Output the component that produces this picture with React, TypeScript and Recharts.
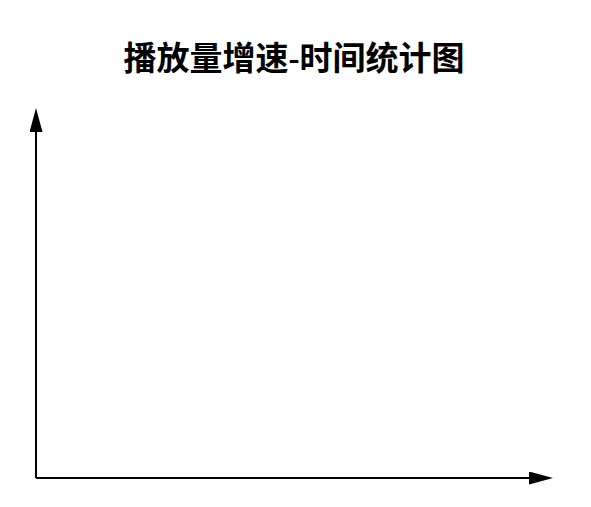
import { LineChart, Line, XAxis, YAxis } from 'recharts'

// the reference chart has no data drawn in it: only the title and the two arrowed axes
const times: number[] = []
const growth: number[] = []

const title = '播放量增速-时间统计图'

const data = times.map((time, i) => ({ time, growth: growth[i] }))

export default function App() {
  return (
    <LineChart
      width={575}
      height={491}
      data={data}
      margin={{ top: 124, right: 54, bottom: 20, left: 27 }}
    >
      <defs>
        <marker
          id="arrow"
          markerUnits="userSpaceOnUse"
          markerWidth={24}
          markerHeight={13}
          refX={0}
          refY={6.5}
          orient="auto-start-reverse"
        >
          <path d="M0,0 L24,6.5 L0,13 Z" fill="#000" />
        </marker>
      </defs>
      <text
        x={286}
        y={51}
        textAnchor="middle"
        dominantBaseline="central"
        fontSize={33}
        fontWeight="bold"
        fontFamily="'Liberation Serif', 'Noto Sans CJK SC', serif"
        fill="#000"
      >
        {title}
      </text>
      <XAxis
        dataKey="time"
        type="number"
        domain={[0, 1]}
        height={1}
        tick={false}
        tickLine={false}
        axisLine={{ stroke: '#000', strokeWidth: 2, markerEnd: 'url(#arrow)' }}
      />
      <YAxis
        type="number"
        domain={[0, 1]}
        width={1}
        tick={false}
        tickLine={false}
        axisLine={{ stroke: '#000', strokeWidth: 2, markerStart: 'url(#arrow)' }}
      />
      <Line dataKey="growth" stroke="#000" dot={false} isAnimationActive={false} />
    </LineChart>
  )
}
